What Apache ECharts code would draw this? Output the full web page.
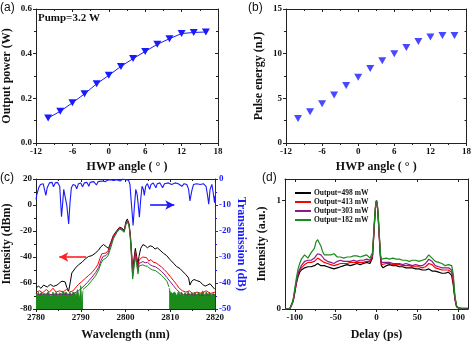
<!DOCTYPE html>
<html><head><meta charset="utf-8">
<script src="https://cdn.jsdelivr.net/npm/echarts@6/dist/echarts.min.js"></script>
<style>html,body{margin:0;padding:0;background:#fff}#c{width:474px;height:342px}</style>
</head><body><div id="c"></div>
<script>
// ---- Panel (a)/(b) data ----
const hwpAngles = [-10,-8,-6,-4,-2,0,2,4,6,8,10,12,14,16];
const outputPower = [0.112,0.142,0.180,0.220,0.265,0.303,0.343,0.378,0.410,0.442,0.467,0.490,0.495,0.497];
const pulseEnergy = [2.74,3.49,4.39,5.37,6.45,7.36,8.33,9.22,10.0,10.7,11.36,11.86,12.04,12.04];

// ---- Panel (c) data ----
const transmission = [[2780.0,-7.8],[2780.2,-5.9],[2780.6,-3.4],[2781.0,-2.1],[2781.6,-1.8],[2781.9,-4.0],[2782.2,-6.3],[2782.5,-3.4],[2783.0,-1.5],[2783.6,-1.3],[2783.9,-3.0],[2784.3,-1.5],[2784.8,-1.3],[2785.3,-2.8],[2785.7,-14.5],[2786.0,-8.4],[2786.2,-4.0],[2786.5,-4.7],[2786.9,-10.3],[2787.3,-17.3],[2787.6,-9.1],[2787.9,-3.4],[2788.3,-2.1],[2788.8,-2.5],[2789.1,-3.8],[2789.5,-1.8],[2790.0,-1.5],[2790.4,-3.0],[2790.8,-1.5],[2791.4,-1.3],[2791.8,-2.8],[2792.1,-1.3],[2792.9,-1.0],[2793.5,-2.3],[2793.9,-1.0],[2794.7,-0.8],[2795.5,-1.0],[2796.0,-0.5],[2796.6,-0.3],[2797.3,-0.6],[2798.1,-0.3],[2798.8,-0.8],[2799.4,0],[2800.1,-0.3],[2800.7,-0.5],[2801.0,-2.1],[2801.3,-9.1],[2801.7,-17.9],[2802.0,-10.3],[2802.3,-4.0],[2802.6,-5.9],[2802.8,-9.1],[2803.1,-14.7],[2803.4,-7.8],[2803.7,-2.8],[2804.0,-4.0],[2804.2,-6.3],[2804.5,-2.8],[2804.9,-1.8],[2805.4,-4.0],[2805.7,-2.1],[2806.2,-1.5],[2806.8,-3.4],[2807.1,-1.8],[2807.7,-1.5],[2808.3,-3.4],[2808.7,-1.8],[2809.6,-1.5],[2810.3,-2.1],[2811.1,-1.5],[2811.8,-1.8],[2812.6,-2.8],[2813.1,-1.8],[2813.7,-2.1],[2814.1,-4.0],[2814.4,-8.4],[2814.8,-4.7],[2815.2,-2.1],[2815.9,-1.8],[2816.7,-2.1],[2817.4,-1.8],[2818.0,-2.8],[2818.3,-5.9],[2818.6,-9.7],[2818.9,-4.0],[2819.3,-2.1],[2819.6,-5.3],[2819.9,-9.1],[2820.0,-6.5]];

const spec498 = [[2780.0,-63.6],[2780.6,-62.4],[2781.1,-64.1],[2781.7,-61.6],[2782.5,-63.1],[2783.2,-61.1],[2783.9,-62.6],[2784.7,-61.6],[2785.3,-59.8],[2785.8,-58.6],[2786.5,-59.1],[2786.9,-63.6],[2787.3,-66.1],[2787.7,-58.6],[2788.0,-52.3],[2788.8,-48.5],[2789.5,-46.0],[2790.3,-44.0],[2791.0,-41.5],[2791.7,-39.7],[2792.5,-38.9],[2793.2,-37.2],[2794.0,-34.7],[2794.5,-32.1],[2795.1,-30.4],[2795.7,-32.1],[2796.2,-33.4],[2796.7,-28.9],[2797.3,-23.3],[2798.1,-19.5],[2798.7,-17.0],[2799.2,-17.8],[2799.7,-19.5],[2800.1,-12.7],[2800.4,-10.7],[2800.8,-14.5],[2801.1,-23.3],[2801.4,-38.4],[2801.6,-51.0],[2801.9,-41.0],[2802.2,-33.4],[2802.5,-39.7],[2802.8,-46.0],[2803.0,-39.7],[2803.4,-33.4],[2803.9,-30.4],[2804.4,-31.4],[2804.9,-32.9],[2805.5,-31.4],[2806.1,-32.1],[2806.6,-33.9],[2807.1,-32.9],[2807.7,-34.7],[2808.5,-37.2],[2809.2,-38.9],[2810.0,-42.2],[2810.7,-44.7],[2811.4,-47.3],[2812.2,-49.0],[2812.9,-51.5],[2813.5,-53.6],[2814.1,-56.1],[2814.4,-61.6],[2814.8,-58.6],[2815.3,-57.3],[2815.9,-58.1],[2816.7,-59.1],[2817.2,-61.1],[2817.8,-62.4],[2818.3,-61.6],[2818.9,-60.6],[2819.5,-63.1],[2820.0,-64.9]];

const spec413 = [[2780.0,-67],[2780.8,-66],[2781.5,-67.5],[2782.3,-65],[2783.0,-67],[2783.8,-64],[2784.5,-67],[2785.3,-66],[2786.0,-67],[2786.8,-65],[2787.5,-67],[2788.3,-66],[2789.0,-63],[2789.5,-61],[2790.2,-59],[2791.0,-56.5],[2791.8,-54],[2792.5,-52],[2793.2,-49],[2793.8,-46],[2794.3,-41],[2794.7,-37.5],[2795.1,-36],[2795.6,-37],[2796.1,-35],[2796.7,-30],[2797.3,-24],[2798.1,-20],[2798.7,-17.5],[2799.2,-18.5],[2799.7,-20],[2800.1,-14],[2800.4,-12],[2800.8,-15],[2801.1,-25],[2801.4,-40],[2801.6,-53],[2801.9,-44],[2802.2,-36],[2802.5,-42],[2802.8,-49],[2803.0,-43],[2803.4,-41],[2803.9,-40],[2804.3,-41.5],[2804.7,-40.5],[2805.2,-43],[2805.7,-42],[2806.2,-44],[2806.8,-44.5],[2807.4,-46],[2808.0,-47.5],[2808.6,-49.5],[2809.3,-52],[2810.0,-55],[2810.7,-58],[2811.4,-61],[2812.0,-64],[2812.7,-66],[2813.5,-67],[2814.3,-66],[2815.0,-68],[2816.0,-67],[2817.0,-68],[2818.0,-66],[2819.0,-68],[2820.0,-67]];

const spec303 = [[2780,-69],[2782,-68.5],[2784,-69],[2786,-68.5],[2788,-69],[2789.5,-66],[2790.5,-63],[2791.5,-59.5],[2792.5,-55.5],[2793.3,-52],[2794.0,-48],[2794.5,-43],[2795.0,-39.5],[2795.6,-39],[2796.1,-37],[2796.7,-31],[2797.3,-25],[2798.1,-20.5],[2798.7,-18],[2799.2,-19],[2799.7,-20.5],[2800.1,-14.5],[2800.4,-12.5],[2800.8,-15.5],[2801.1,-26],[2801.4,-42],[2801.6,-55],[2801.9,-46],[2802.2,-38],[2802.5,-44],[2802.8,-51],[2803.0,-45],[2803.4,-44],[2803.9,-43.5],[2804.4,-44.5],[2804.9,-44],[2805.5,-46],[2806.1,-47],[2806.7,-47.5],[2807.3,-49],[2808.0,-51],[2808.6,-53],[2809.3,-56],[2810.0,-59],[2810.7,-62],[2811.4,-65],[2812.2,-67.5],[2813,-69],[2815,-69],[2817,-69.5],[2820,-69]];

const spec182 = [[2790.5,-65],[2791.5,-62],[2792.5,-58],[2793.3,-54.5],[2794.0,-50],[2794.5,-45],[2795.0,-42],[2795.6,-41],[2796.1,-39],[2796.7,-33],[2797.3,-26],[2798.1,-21],[2798.7,-18.5],[2799.2,-19.5],[2799.7,-21],[2800.1,-15],[2800.4,-13],[2800.8,-16],[2801.1,-27],[2801.4,-44],[2801.6,-57],[2801.9,-48],[2802.2,-40],[2802.5,-46],[2802.8,-53],[2803.0,-47],[2803.4,-46],[2803.9,-46],[2804.4,-47],[2804.9,-47],[2805.5,-49],[2806.1,-50],[2806.7,-50.5],[2807.3,-52],[2808.0,-54],[2808.6,-56],[2809.3,-59],[2809.7,-63]];

// green noise floor, sampled every 0.25 nm
const noiseLeftStart = 2780, noiseRightStart = 2809.75, noiseStep = 0.25;
const noiseLeft = [-68,-70,-67,-69,-68.5,-67,-70,-68,-67.5,-69,-68,-66.5,-69,-68,-70,-67,-68.5,-69,-67,-68,-70,-67.5,-68,-69,-66,-68,-69.5,-67,-68,-70,-67,-68.5,-69,-67,-66,-68,-70,-65,-64,-72,-62,-75,-66];
const noiseRight = [-64,-67,-66,-68,-69,-67,-68,-70,-67,-68.5,-69,-67,-68,-70,-67.5,-68,-69,-66.5,-68,-70,-67,-68,-69,-67,-68.5,-70,-67,-68,-69,-67.5,-66,-68,-70,-67,-68,-69,-67,-68.5,-70,-68,-67,-69];

// ---- Panel (d) data ----
const delays = [-112,-106,-104,-102,-100,-98,-96,-94,-92,-88,-84,-80,-76,-74,-72,-70,-68,-66,-64,-60,-56,-52,-48,-44,-40,-36,-32,-28,-24,-20,-16,-12,-8,-6,-5,-4,-3,-2,-1,0,1,2,3,4,5,6,8,12,16,20,24,28,32,36,40,44,48,52,56,60,62,64,66,68,72,76,80,84,88,90,92,94,96,98,100,104,112];
const ac498 = [0,0.005,0.02,0.07,0.15,0.24,0.30,0.34,0.36, 0.38,0.39,0.39,0.40,0.41,0.42,0.41,0.40,0.41,0.40, 0.39,0.38,0.37,0.38,0.39,0.40,0.41,0.40,0.41,0.42, 0.41,0.42,0.43,0.42,0.41,0.47,0.59,0.72,0.85,0.96, 1.0, 0.96,0.85,0.72,0.58,0.46,0.40,0.38,0.40,0.41,0.40, 0.40,0.39,0.39,0.38,0.38,0.38,0.37,0.37,0.36,0.36, 0.36,0.37,0.36,0.35,0.35,0.34,0.33,0.33,0.34,0.33, 0.31,0.22,0.09,0.02,0.005,0,0];
const ac413 = [0,0.005,0.02,0.075,0.16,0.25,0.32,0.36,0.38, 0.41,0.43,0.43,0.44,0.45,0.47,0.47,0.45,0.44,0.43, 0.42,0.41,0.40,0.41,0.42,0.42,0.42,0.43,0.43,0.43, 0.43,0.43,0.44,0.44,0.43,0.48,0.60,0.73,0.86,0.96, 1.0, 0.96,0.86,0.73,0.59,0.47,0.41,0.40,0.42,0.42,0.41, 0.41,0.41,0.40,0.40,0.40,0.39,0.39,0.39,0.38,0.39, 0.40,0.42,0.43,0.41,0.38,0.37,0.36,0.36,0.36,0.37, 0.34,0.25,0.10,0.03,0.01,0.005,0.005];
const ac303 = [0,0.005,0.02,0.08,0.17,0.26,0.33,0.37,0.40, 0.44,0.45,0.45,0.47,0.49,0.51,0.52,0.50,0.48,0.46, 0.44,0.43,0.42,0.44,0.45,0.44,0.44,0.44,0.45,0.44, 0.45,0.45,0.46,0.45,0.44,0.49,0.61,0.74,0.86,0.96, 1.0, 0.96,0.86,0.74,0.60,0.48,0.43,0.42,0.43,0.43,0.42, 0.42,0.42,0.41,0.42,0.41,0.40,0.41,0.40,0.40,0.42, 0.44,0.46,0.47,0.44,0.40,0.39,0.38,0.38,0.38,0.39, 0.36,0.28,0.10,0.03,0.01,0.005,0.005];
const ac182 = [0,0.005,0.03,0.09,0.19,0.29,0.37,0.42,0.46, 0.50,0.47,0.52,0.56,0.62,0.64,0.63,0.58,0.53,0.50, 0.50,0.50,0.51,0.48,0.48,0.47,0.48,0.48,0.49,0.49, 0.48,0.49,0.50,0.47,0.47,0.52,0.63,0.76,0.88,0.97, 1.0, 0.97,0.88,0.75,0.61,0.50,0.46,0.45,0.47,0.46,0.47, 0.46,0.46,0.45,0.45,0.44,0.45,0.45,0.44,0.45,0.46, 0.47,0.50,0.49,0.47,0.44,0.43,0.42,0.40,0.41,0.42, 0.40,0.32,0.12,0.03,0.01,0,0];
const legendNames = ['Output=498 mW','Output=413 mW','Output=303 mW','Output=182 mW'];
const delayLabels = [-100,-50,0,50,100];
const delayMinor = [-75,-25,25,75];

// ---- styles ----
const SERIF = 'Liberation Serif';
const AX = '#222';
const BLUE = '#1a1aff';
const tickLbl = {fontFamily: SERIF, fontWeight: 'bold', fontSize: 9, color: '#111', margin: 4};
const nameStyle = {fontFamily: SERIF, fontWeight: 'bold', fontSize: 12, color: '#111'};
const plain = v => String(v);

function mainX(grid, min, max, interval, name, gap, extra) {
  return Object.assign({
    type: 'value', gridIndex: grid, min, max, interval, position: 'bottom',
    name, nameLocation: 'middle', nameGap: gap, nameTextStyle: nameStyle,
    axisLine: {show: true, onZero: false, lineStyle: {color: AX, width: 1}},
    axisTick: {show: true, inside: false, length: 3, lineStyle: {color: AX}},
    minorTick: {show: true, splitNumber: 2, length: 2, lineStyle: {color: AX}},
    axisLabel: Object.assign({}, tickLbl, {formatter: plain}), splitLine: {show: false}
  }, extra || {});
}
function mirrorX(grid, min, max, interval, extra) {
  return Object.assign({
    type: 'value', gridIndex: grid, min, max, interval, position: 'top',
    axisLine: {show: true, onZero: false, lineStyle: {color: AX, width: 1}},
    axisTick: {show: true, inside: true, length: 3, lineStyle: {color: AX}},
    minorTick: {show: true, splitNumber: 2, length: 2, lineStyle: {color: AX}},
    axisLabel: {show: false}, splitLine: {show: false}
  }, extra || {});
}
function mainY(grid, min, max, interval, name, nameGap, extra) {
  return Object.assign({
    type: 'value', gridIndex: grid, min, max, interval, position: 'left',
    name, nameLocation: 'middle', nameGap, nameTextStyle: nameStyle,
    axisLine: {show: true, onZero: false, lineStyle: {color: AX, width: 1}},
    axisTick: {show: true, inside: false, length: 3, lineStyle: {color: AX}},
    minorTick: {show: true, splitNumber: 2, length: 2, lineStyle: {color: AX}},
    axisLabel: tickLbl, splitLine: {show: false}
  }, extra || {});
}
function mirrorY(grid, min, max, interval, extra) {
  return Object.assign({
    type: 'value', gridIndex: grid, min, max, interval, position: 'right',
    axisLine: {show: true, onZero: false, lineStyle: {color: AX, width: 1}},
    axisTick: {show: true, inside: true, length: 3, lineStyle: {color: AX}},
    minorTick: {show: true, splitNumber: 2, length: 2, lineStyle: {color: AX}},
    axisLabel: {show: false}, splitLine: {show: false}
  }, extra || {});
}

const pairs = (xs, ys) => xs.map((x, i) => [x, ys[i]]);
const noisePairs = (start, arr) => arr.map((v, i) => [start + i * noiseStep, v]);

const chart = echarts.init(document.getElementById('c'), null, {renderer: 'canvas'});
const option = {
  animation: false,
  backgroundColor: '#fff',
  grid: [
    {left: 36, top: 9, width: 182, height: 134},
    {left: 286, top: 9, width: 182, height: 134},
    {left: 36, top: 179, width: 179, height: 133},
    {left: 285, top: 179, width: 183, height: 133}
  ],
  xAxis: [
    mainX(0, -12, 18, 6, 'HWP angle ( ° )', 18),
    mirrorX(0, -12, 18, 6),
    mainX(1, -12, 18, 6, 'HWP angle ( ° )', 18),
    mirrorX(1, -12, 18, 6),
    mainX(2, 2780, 2820, 10, 'Wavelength (nm)', 20),
    mirrorX(2, 2780, 2820, 10),
    mainX(3, -112, 112, null, 'Delay (ps)', 20, {
      interval: undefined,
      axisLabel: Object.assign({}, tickLbl, {customValues: delayLabels, formatter: plain}),
      axisTick: {show: true, inside: false, length: 3, customValues: delayLabels, lineStyle: {color: AX}},
      minorTick: {show: false}
    }),
    mirrorX(3, -112, 112, null, {
      interval: undefined,
      axisTick: {show: true, inside: true, length: 3, customValues: delayLabels, lineStyle: {color: AX}},
      minorTick: {show: false}
    }),
    {
      type: 'value', gridIndex: 3, min: -112, max: 112, position: 'bottom',
      axisLine: {show: false},
      axisTick: {show: true, inside: false, length: 2, customValues: delayMinor, lineStyle: {color: AX}},
      axisLabel: {show: false}, splitLine: {show: false}
    }
  ],
  yAxis: [
    mainY(0, 0, 0.6, 0.2, 'Output power (W)', 23, {axisLabel: Object.assign({}, tickLbl, {formatter: v => v.toFixed(1)})}),
    mirrorY(0, 0, 0.6, 0.2),
    mainY(1, 0, 15, 5, 'Pulse energy (nJ)', 21),
    mirrorY(1, 0, 15, 5),
    mainY(2, -80, 20, 20, 'Intensity (dBm)', 23),
    {
      type: 'value', gridIndex: 2, min: -50, max: 0, interval: 10, position: 'right',
      name: 'Transmission (dB)', nameLocation: 'middle', nameGap: 17, nameRotate: -90,
      nameTextStyle: Object.assign({}, nameStyle, {color: BLUE}),
      axisLine: {show: true, onZero: false, lineStyle: {color: BLUE, width: 1}},
      axisTick: {show: true, inside: false, length: 3, lineStyle: {color: BLUE}},
      minorTick: {show: true, splitNumber: 2, length: 2, lineStyle: {color: BLUE}},
      axisLabel: Object.assign({}, tickLbl, {color: BLUE}), splitLine: {show: false}
    },
    mainY(3, 0, 1.2, 1, 'Intensity (a.u.)', 17, {minorTick: {show: false}, axisLabel: Object.assign({}, tickLbl, {showMaxLabel: false})}),
    mirrorY(3, 0, 1.2, 1, {minorTick: {show: false}})
  ],
  legend: {
    show: true, orient: 'vertical', left: 290, top: 184, itemGap: 1,
    itemWidth: 16, itemHeight: 2, icon: 'rect',
    textStyle: {fontFamily: SERIF, fontWeight: 'bold', fontSize: 7.5, color: '#111', padding: [0,0,0,-2]},
    data: legendNames
  },
  series: [
    {type: 'line', xAxisIndex: 0, yAxisIndex: 0, data: pairs(hwpAngles, outputPower),
     symbol: 'triangle', symbolRotate: 180, symbolSize: [8, 7],
     lineStyle: {color: BLUE, width: 1}, itemStyle: {color: BLUE}},
    {type: 'scatter', xAxisIndex: 2, yAxisIndex: 2, data: pairs(hwpAngles, pulseEnergy),
     symbol: 'triangle', symbolRotate: 180, symbolSize: [8, 7], itemStyle: {color: BLUE}},
    // panel c spectra
    {type: 'line', xAxisIndex: 4, yAxisIndex: 4, data: spec498, showSymbol: false,
     lineStyle: {color: '#000', width: 1}, itemStyle: {color: '#000'},
     markLine: {silent: true, symbol: ['none', 'arrow'], symbolSize: [7, 9], label: {show: false},
       lineStyle: {color: '#ff2020', width: 1.6, type: 'solid'},
       data: [[{coord: [2791.2, -40]}, {coord: [2785.2, -40]}]]}},
    {type: 'line', xAxisIndex: 4, yAxisIndex: 4, data: spec413, showSymbol: false,
     lineStyle: {color: '#ff0000', width: 1}, itemStyle: {color: '#ff0000'}},
    {type: 'line', xAxisIndex: 4, yAxisIndex: 4, data: spec303, showSymbol: false,
     lineStyle: {color: '#8b1a8b', width: 1}, itemStyle: {color: '#8b1a8b'}},
    {type: 'line', xAxisIndex: 4, yAxisIndex: 4, data: noisePairs(noiseLeftStart, noiseLeft), showSymbol: false,
     lineStyle: {color: '#1a8a1a', width: 0.8}, itemStyle: {color: '#1a8a1a'},
     areaStyle: {color: '#1a8a1a', opacity: 1, origin: 'start'}},
    {type: 'line', xAxisIndex: 4, yAxisIndex: 4, data: noisePairs(noiseRightStart, noiseRight), showSymbol: false,
     lineStyle: {color: '#1a8a1a', width: 0.8}, itemStyle: {color: '#1a8a1a'},
     areaStyle: {color: '#1a8a1a', opacity: 1, origin: 'start'}},
    {type: 'line', xAxisIndex: 4, yAxisIndex: 4, data: spec182, showSymbol: false,
     lineStyle: {color: '#1a8a1a', width: 1}, itemStyle: {color: '#1a8a1a'}},
    {type: 'line', xAxisIndex: 4, yAxisIndex: 5, data: transmission, showSymbol: false,
     lineStyle: {color: BLUE, width: 1.1}, itemStyle: {color: BLUE},
     markLine: {silent: true, symbol: ['none', 'arrow'], symbolSize: [7, 9], label: {show: false},
       lineStyle: {color: BLUE, width: 1.6, type: 'solid'},
       data: [[{coord: [2805.5, -10]}, {coord: [2810.9, -10]}]]}},
    // panel d
    {name: legendNames[0], type: 'line', xAxisIndex: 6, yAxisIndex: 6, data: pairs(delays, ac498), showSymbol: false,
     lineStyle: {color: '#000', width: 1.2}, itemStyle: {color: '#000'}},
    {name: legendNames[1], type: 'line', xAxisIndex: 6, yAxisIndex: 6, data: pairs(delays, ac413), showSymbol: false,
     lineStyle: {color: '#ff0000', width: 1.2}, itemStyle: {color: '#ff0000'}},
    {name: legendNames[2], type: 'line', xAxisIndex: 6, yAxisIndex: 6, data: pairs(delays, ac303), showSymbol: false,
     lineStyle: {color: '#8b1a8b', width: 1.2}, itemStyle: {color: '#8b1a8b'}},
    {name: legendNames[3], type: 'line', xAxisIndex: 6, yAxisIndex: 6, data: pairs(delays, ac182), showSymbol: false,
     lineStyle: {color: '#1a8a1a', width: 1.2}, itemStyle: {color: '#1a8a1a'}}
  ],
  graphic: [
    {type: 'text', left: 0, top: 2, style: {text: '(a)', font: '12px "Liberation Sans"', fill: '#111'}},
    {type: 'text', left: 248, top: 2, style: {text: '(b)', font: '12px "Liberation Sans"', fill: '#111'}},
    {type: 'text', left: 0, top: 172, style: {text: '(c)', font: '12px "Liberation Sans"', fill: '#111'}},
    {type: 'text', left: 262, top: 172, style: {text: '(d)', font: '12px "Liberation Sans"', fill: '#111'}},
    {type: 'text', left: 38, top: 13, style: {text: 'Pump=3.2 W', font: 'bold 11px "Liberation Serif"', fill: '#111'}}
  ]
};
chart.setOption(option);
</script></body></html>
